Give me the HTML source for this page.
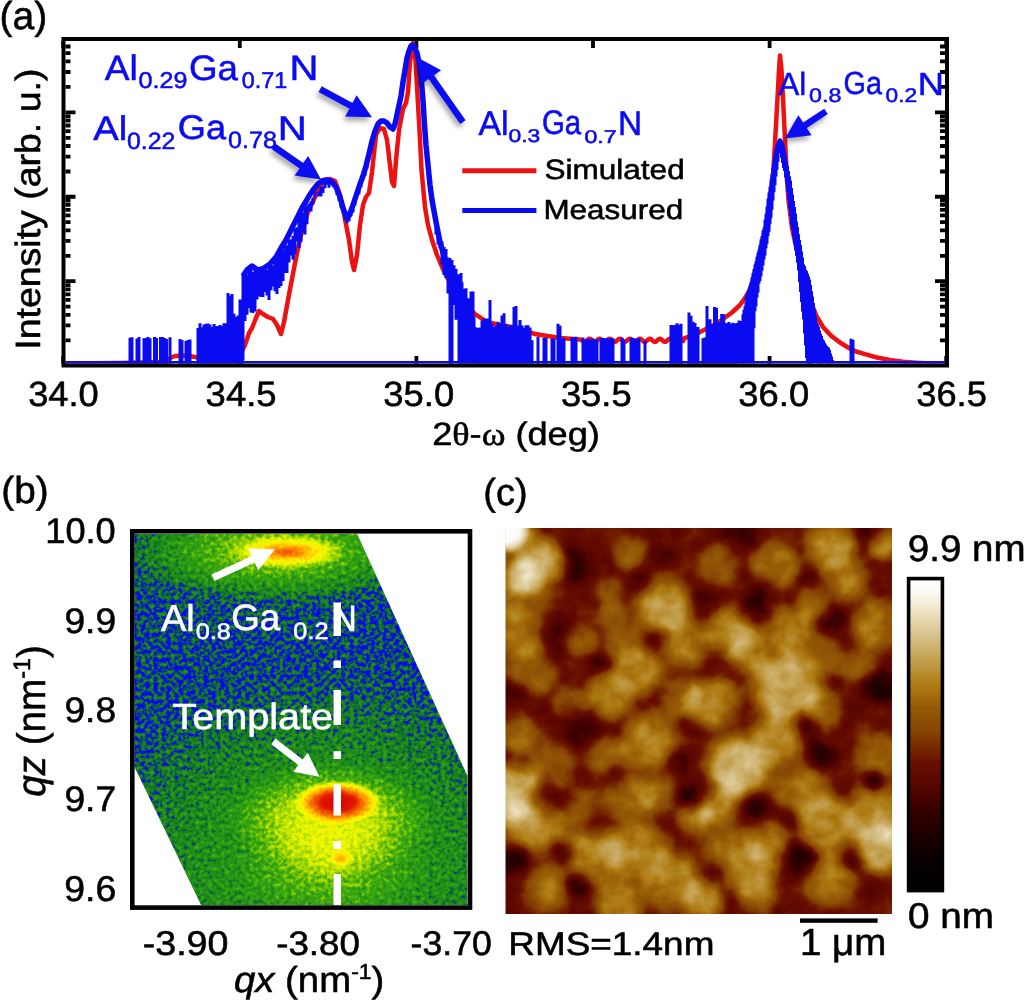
<!DOCTYPE html><html><head><meta charset="utf-8"><style>html,body{margin:0;padding:0;background:#fff;}body{width:1025px;height:1003px;overflow:hidden;}svg{display:block;filter:blur(0.75px);}text{font-family:"Liberation Sans",sans-serif;text-rendering:geometricPrecision;}</style></head><body>
<svg width="1025" height="1003" viewBox="0 0 1025 1003">
<defs>
<filter id="sh" x="-30%" y="-30%" width="160%" height="160%"><feDropShadow dx="-2" dy="4" stdDeviation="2.5" flood-color="#000" flood-opacity="0.35"/></filter>
<clipPath id="clipA"><rect x="65.5" y="41" width="879.5" height="322.5"/></clipPath>
</defs>
<rect width="1025" height="1003" fill="#fff"/>
<path d="M65.5 340.3H70.5M945 340.3H940M65.5 325.4H70.5M945 325.4H940M65.5 314.8H70.5M945 314.8H940M65.5 306.6H70.5M945 306.6H940M65.5 299.9H70.5M945 299.9H940M65.5 294.3H70.5M945 294.3H940M65.5 289.4H70.5M945 289.4H940M65.5 285.1H70.5M945 285.1H940M65.5 281.2H75.5M945 281.2H935M65.5 281.2H75.5M945 281.2H935M65.5 255.8H70.5M945 255.8H940M65.5 240.9H70.5M945 240.9H940M65.5 230.3H70.5M945 230.3H940M65.5 222.1H70.5M945 222.1H940M65.5 215.4H70.5M945 215.4H940M65.5 209.8H70.5M945 209.8H940M65.5 204.9H70.5M945 204.9H940M65.5 200.6H70.5M945 200.6H940M65.5 196.7H75.5M945 196.7H935M65.5 196.9H75.5M945 196.9H935M65.5 171.5H70.5M945 171.5H940M65.5 156.6H70.5M945 156.6H940M65.5 146H70.5M945 146H940M65.5 137.8H70.5M945 137.8H940M65.5 131.1H70.5M945 131.1H940M65.5 125.5H70.5M945 125.5H940M65.5 120.6H70.5M945 120.6H940M65.5 116.3H70.5M945 116.3H940M65.5 112.4H75.5M945 112.4H935M65.5 112.3H75.5M945 112.3H935M65.5 86.9H70.5M945 86.9H940M65.5 72H70.5M945 72H940M65.5 61.4H70.5M945 61.4H940M65.5 53.2H70.5M945 53.2H940M65.5 46.5H70.5M945 46.5H940M63.2 363.5V356M63.2 41V48M239.8 363.5V356M239.8 41V48M416.4 363.5V356M416.4 41V48M593 363.5V356M593 41V48M769.6 363.5V356M769.6 41V48M946.2 363.5V356M946.2 41V48" stroke="#000" stroke-width="3.8" fill="none"/>
<g clip-path="url(#clipA)">
<path d="M65 363.5 L120 363 L165 362 L170 358 L175 356 L185 355.5 L195 357 L205 359 L215 358 L230 357 L240 355 L245 345 L249 333 L252 328 L256 318 L259 311 L263 314 L268 317 L273 319 L277 325 L281 334 L284 322 L288 300 L291 284 L296 258 L301 235 L308 212 L315 197 L320 187 L325 180 L330 179 L335 181 L340 195 L345 219 L349 240 L352 262 L354 270 L357 255 L360 225 L363 205 L366 197 L369 193 L372 172 L376 135 L380 128 L384 129 L387 140 L390 165 L392 182 L394 186 L396 160 L399 130 L403 109 L406 103 L408 92 L410 62 L413 43 L415.5 60 L417.5 95 L420 140 L421.5 170 L425 207 L428 225 L432 240 L437 255 L442 267 L448 279 L455 289 L466 304 L475 314 L487 322 L500 325 L512 327 L535 334 L560 338 L580 339.5 L582 340.3 L583.2 341.4 L584.5 341.9 L585.8 341.4 L587 340.3 L588.2 339.2 L589.5 338.7 L590.8 339.1 L592 340.2 L593.2 341.4 L594.5 341.9 L595.8 341.5 L597 340.4 L598.2 339.2 L599.5 338.7 L600.8 339.1 L602 340.2 L603.2 341.3 L604.5 341.9 L605.8 341.5 L607 340.4 L608.2 339.3 L609.5 338.7 L610.8 339.1 L612 340.1 L613.2 341.3 L614.5 341.9 L615.8 341.6 L617 340.5 L618.2 339.3 L619.5 338.7 L620.8 339 L622 340.1 L623.2 341.3 L624.5 341.9 L625.8 341.6 L627 340.5 L628.2 339.4 L629.5 338.7 L630.8 339 L632 340 L633.2 341.2 L634.5 341.9 L635.8 341.6 L637 340.6 L638.2 339.4 L639.5 338.7 L640.8 339 L642 340 L643.2 341.2 L644.5 341.9 L645.8 341.6 L647 340.6 L648.2 339.4 L649.5 338.7 L650.8 338.9 L652 339.9 L653.2 341.1 L654.5 341.9 L655.8 341.7 L657 340.7 L658.2 339.5 L659.5 338.8 L660.8 338.9 L662 339.9 L663.2 341.1 L664.5 341.8 L665.8 341.7 L667 340.7 L668.2 339.5 L669.5 338.8 L670.8 338.9 L672 339.8 L673.2 341 L674.5 341.8 L675.8 341.7 L677 340.8 L678.2 339.6 L679.5 338.8 L680.8 338.9 L682 339.8 L683.2 341 L684 338.3 L695 334.5 L705 329.6 L715 324.5 L723 319 L732 312.5 L740 305 L745 298 L749 291 L754 279 L758 266 L762 252 L766 238 L769 220 L772 190 L774 160 L776 125 L777.5 98 L779 70 L780 55.5 L781.5 70 L783 98 L785 140 L787 180 L788.5 200 L792 228 L797 251 L802 272 L807 290 L812 305 L817 317 L823 327 L831 335.6 L840 342.5 L848 347.5 L856 351.5 L865 354.2 L877 357.5 L890 360 L903 361.8 L916 362.7 L930 363.5 L943 364" stroke="#ee1111" stroke-width="4.5" fill="none" stroke-linejoin="round"/>
<path d="M65 362.3 L945 362.3" stroke="#0b0bf2" stroke-width="2.6" fill="none"/>
<path d="M130 337.7V364M132 337.3V364M137 338.6V364M139 337.1V364M144 338.3V364M146 337.9V364M148 337.1V364M150 338.2V364M154.5 337V364M156.5 338V364M160.5 337.1V364M162.5 337.1V364M164.5 338V364M166.5 339V364M170 337.2V364M180 339V364M182 340V364M186 340.9V364M188 339.9V364M190 339.4V364M198 327.9V364M200 323.2V364M202 327.3V364M204 324.4V364M206 323.7V364M208 323.6V364M210 324.5V364M212 327.1V364M214 323.9V364M216 325.9V364M218 326.2V364M220 324.9V364M222 325.7V364M224 323.3V364M226 323.3V364M228 293V364M230 295.4V364M232 294.1V364M234 313.8V364M236 317V364M238 315.4V364M240 299.5V364M242 306.9V364M243 274.9V360.6M245 273.4V321M247 275V314.8M249 270.3V307.9M251 268.4V312.5M253 272.1V313.1M255 269.4V311.5M257 270.7V299.6M259 270V296.3M261 268.2V297.1M263 269.7V297.1M265 267.7V292M267 270.1V295.6M269 267.1V299.9M271 265.7V290.3M273 265.5V286.5M275 258.2V291.3M277 258.2V293.9M279 253.7V288.1M281 248.3V286M283 250V281M285 243.7V273M287 245.4V273M289 239.5V262.6M291 239.2V255.5M293 235.7V259.8M295 228.6V254.6M297 227.2V241.6M299 217.4V247.9M301 214V242.1M303 212.4V231.8M305 207.5V234.6M307 205.4V224.2M309 203.5V210.7M311 201.3V211.4M313 198V204.5M315 191.4V197.4M317 193.8V193.8M319 191.6V196.5M321 186.8V196.6M323 186.4V193.1M325 181V188.2M327 180.6V184.7M329 178.9V187.8M436 226.9V234.6M438 234.2V244.6M440 241.6V248.1M442 241.6V264.8M444 247.1V274.9M446 249.1V278.1M448 257.6V293.5M450 257.9V308.8M452 259.9V308.5M454 265.3V305.1M456 269V319.7M458 278.4V317.6M460 278.2V322.4M462 282.2V327.6M464 292.5V337.4M466 295.5V360.3M468 298.2V361.7M470 307V356.5M472 313.3V359.4M474 316.3V352.6M476 328.4V352.1M450 262.5V364M452 262.5V364M459 274.3V364M461 273V364M464 288.7V364M466 288.3V364M471 291.5V364M473 291.5V364M466 319.4V364M468 319.1V364M470 324.3V364M472 327.5V364M474 321.4V364M476 327.2V364M478 327.9V364M480 327.5V364M482 320.4V364M484 318.6V364M486 318.7V364M488 318.4V364M490 300V364M492 323.5V364M494 326.8V364M496 326.1V364M498 321.8V364M500 323.8V364M502 315.4V364M504 313.3V364M506 323.9V364M508 326.9V364M510 325.4V364M512 325V364M514 307V364M516 306.1V364M518 325.5V364M520 320V364M522 325.6V364M524 327.7V364M526 325.2V364M528 325.2V364M530 327.4V364M532 340.3V364M538 336.8V364M544 337.7V364M546 337.8V364M552 338.8V364M554 338.5V364M558 323.8V364M560 325.5V364M562 338.9V364M564 338.1V364M572 337.3V364M574 337.8V364M576 336.7V364M583 337.4V364M585 339.9V364M587 339.1V364M589 338.8V364M591 339.8V364M593 338.5V364M595 339.7V364M597 339.5V364M601 337.9V364M603 338.1V364M605 338.2V364M607 338V364M609 338.9V364M611 338.1V364M613 338.5V364M622 337.7V364M624 339.8V364M631 337.8V364M633 338.1V364M635 338.4V364M637 339.3V364M639 338V364M645 340.8V364M671 325.1V364M673 325.2V364M675 325.1V364M677 323.2V364M679 324.8V364M681 323.8V364M689 312.6V364M691 315.7V364M693 321.8V364M695 322.9V364M698 326.9V364M703 338.3V364M705 337.4V364M707 306.1V364M710 319.3V364M713 324.2V364M715 321.5V364M717 323.3V364M719 322.1V364M721 322.2V364M723 324.1V364M725 323.1V364M727 323.3V364M729 324.1V364M731 324.7V364M733 322.8V364M735 323.5V364M737 323.1V364M714.5 307.1V364M716.5 307.8V364M721.7 313.9V364M723.7 314.2V364M729 322V364M731 323.8V364M733 322.8V364M735 323.5V364M737 323.8V364M739 320.5V362.3M740 334.9V361.5M741 326.9V363.6M742 321.1V363.8M743 314.3V363.8M744 309.7V361.6M745 306.2V363.5M746 301.8V362M747 296.7V361.4M748 294.3V363.3M749 290.3V362.8M750 285.4V361M751 282.1V363.5M752 277.3V362.5M753 273.1V363.4M754 269V328.3M755 264.4V311.3M756 261.2V306.2M757 256.7V297.6M758 252.7V292.5M759 249.4V283.6M760 245.1V280.9M761 239.4V276.3M762 236.1V270.8M763 230.5V265.5M764 227.8V259.5M765 219.7V255.6M766 214.1V248.3M767 206.8V243.7M768 198.7V235.9M769 192.6V231.8M770 186.7V224.1M771 179.6V217.7M772 174V209.8M773 168.2V200.6M774 161.4V192.3M775 156.9V185.2M776 151.7V176.4M777 148.4V169.7M778 144.7V161.8M779 141.2V153.1M780.5 142.5V152.4M781.5 145.4V157.8M782.5 148.1V163M783.5 150.7V167.9M784.5 153.6V171.1M785.5 158.3V177.4M786.5 162.5V183.2M787.5 166.1V191.5M788.5 171.1V200.5M789.5 176.2V208.8M790.5 180.4V215.9M791.5 188.1V225M792.5 194.5V230M793.5 200.9V237M794.5 207.1V244.1M795.5 213.4V250.2M796.5 221.4V255.7M797.5 226.9V262.7M798.5 234.3V270.4M799.5 239.9V282.2M800.5 245.1V291.9M801.5 251.5V302.1M802.5 257.5V311.5M803.5 264.2V319.3M804.5 266V333.4M805.5 269.5V345.2M806.5 271V358M807.5 273.7V362.6M808.5 276.6V363.4M809.5 279.6V364M810.5 285.1V363.7M811.5 291.3V363.9M812.5 296.6V363.1M813.5 303V362.2M814.5 309.5V361.7M815.5 315.7V361.9M816.5 322.2V362.8M817.5 324.2V361M818.5 326.7V361.8M819.5 330.5V363.9M820.5 333.7V361.3M821.5 336.1V361.8M822.5 339.3V363.6M823.5 340.5V362.5M824.5 342.8V361.6M825.5 344.4V362.2M826.5 346.1V362M827.5 347.3V363.3M828.5 347.6V363.6M829.5 349.9V363.7M830.5 353.4V362.3M831.5 356.5V362.1M832.5 360.1V362.8M851 338.7V364M853 339.7V364M337 186.5V195M339 192.4V201.1M341 200.4V207.8M343 207V210.5M345 212.3V220.4M347 215.2V223.2M349 212.1V221.5M351 209.1V216M353 202.3V212.4M355 196.5V205.5M357 192.7V196M359 186V194.2M361 180.1V187.3M363 176V178.4M365 168.3V176M367 159.2V168.7M369 152.8V159.6M371 143.5V150.6" stroke="#0b0bf2" stroke-width="3" fill="none"/>
<path d="M243 276 L247 270 L252 266 L258 270 L264 268 L270 264 L276 257 L281 248 L286 240 L290 232 L294 224 L298 216 L302 208 L305 203 L309 196 L313 190 L318 184 L322 181 L326 180 L331 181 L336 187 L340 197 L343 208 L346 216 L349 216 L352 208 L356 196 L360 184 L363 176 L366 166 L369 154 L372 141 L375 131 L378 124 L381 121 L384 121 L387 123 L390 127 L393 129 L395 124 L398 110 L401 96 L403 82 L405 70 L407 58 L409 51 L411 46 L413 45 L415 48 L417 53 L419 62 L421 76 L423 100 L424.5 125 L426 145 L428 165 L430 185 L432 200 L436 222 L440 242 L444 256 L448 266 L452 276 L456 288 L460 302 L464 318 L468 333 L472 346 L477 358 L481 363" stroke="#0b0bf2" stroke-width="5.5" fill="none" stroke-linejoin="round"/>
<path d="M746 300 L751.5 286 L757.5 262 L766 226 L772.5 180 L775 160 L777.5 146 L780 140.5 L782.5 146 L785 160 L788 178 L795 226 L801 262 L806 285 L810 309" stroke="#0b0bf2" stroke-width="4.5" fill="none" stroke-linejoin="round"/>
</g>
<rect x="63.5" y="39" width="883.5" height="326.5" fill="none" stroke="#000" stroke-width="4"/>
<path d="M462.3 170.8H536.4" stroke="#ee1111" stroke-width="5"/>
<path d="M462.3 210.6H536.4" stroke="#0b0bf2" stroke-width="5"/>
<g filter="url(#sh)">
<polygon points="271.8,149.2 299.5,168.4 294.5,175.6 321,179.5 308.2,155.9 303.2,163.1 275.6,143.8" fill="#0b0bf2"/>
<polygon points="318.5,92 349.4,108.7 345.2,116.4 372,117.3 356.6,95.3 352.5,103 321.7,86.2" fill="#0b0bf2"/>
<polygon points="465.6,120.2 434,75.3 441.1,70.2 417.5,57.5 421.5,84 428.6,79 460.2,124" fill="#0b0bf2"/>
<polygon points="824.2,108.7 803.2,122.6 798.4,115.3 785,138.5 811.6,135.3 806.8,128 827.8,114.1" fill="#0b0bf2"/>
</g>
<defs>
<filter id="rsmf" x="130" y="529" width="345" height="381" filterUnits="userSpaceOnUse" color-interpolation-filters="sRGB">
<feTurbulence type="fractalNoise" baseFrequency="0.24" numOctaves="2" seed="11" result="nz"/>
<feColorMatrix in="nz" type="matrix" values="1 0 0 0 0 1 0 0 0 0 1 0 0 0 0 0 0 0 0 1" result="ng"/>
<feComposite in="SourceGraphic" in2="ng" operator="arithmetic" k1="-0.550" k2="1.275" k3="0.550" k4="-0.275" result="sum"/>
<feComponentTransfer in="sum"><feFuncR type="table" tableValues="0.020 0.020 0.020 0.020 0.020 0.020 0.020 0.020 0.020 0.020 0.020 0.020 0.020 0.020 0.020 0.020 0.020 0.024 0.043 0.065 0.094 0.125 0.162 0.199 0.235 0.382 0.529 0.667 0.797 0.912 0.961 1.000 1.000 1.000 0.987 0.971 0.948 0.915 0.882 0.833 0.784"/><feFuncG type="table" tableValues="0.020 0.020 0.020 0.020 0.020 0.020 0.020 0.020 0.020 0.020 0.020 0.020 0.020 0.020 0.020 0.020 0.020 0.061 0.267 0.443 0.502 0.556 0.593 0.630 0.667 0.732 0.797 0.858 0.915 0.961 0.961 0.940 0.833 0.727 0.601 0.471 0.340 0.209 0.078 0.039 0.000"/><feFuncB type="table" tableValues="0.980 0.980 0.980 0.980 0.980 0.980 0.980 0.980 0.980 0.980 0.980 0.980 0.980 0.980 0.980 0.980 0.980 0.898 0.486 0.151 0.122 0.096 0.083 0.071 0.059 0.034 0.010 0.000 0.000 0.000 0.000 0.000 0.000 0.000 0.000 0.000 0.000 0.000 0.000 0.000 0.000"/><feFuncA type="linear" slope="0" intercept="1"/></feComponentTransfer>
</filter>
<radialGradient id="gBig" cx="325" cy="860" r="250" gradientUnits="userSpaceOnUse" gradientTransform="translate(325 860) scale(1 0.76) translate(-325 -860)"><stop offset="0" stop-color="#fff" stop-opacity="0.24"/><stop offset="0.5" stop-color="#fff" stop-opacity="0.14"/><stop offset="1" stop-color="#fff" stop-opacity="0"/></radialGradient>
<radialGradient id="gA2" cx="278" cy="552" r="150" gradientUnits="userSpaceOnUse" gradientTransform="translate(278 552) scale(1 0.3333333333333333) translate(-278 -552)"><stop offset="0" stop-color="#fff" stop-opacity="0.42"/><stop offset="0.5" stop-color="#fff" stop-opacity="0.2"/><stop offset="1" stop-color="#fff" stop-opacity="0"/></radialGradient>
<radialGradient id="gTop" cx="270" cy="540" r="200" gradientUnits="userSpaceOnUse" gradientTransform="translate(270 540) scale(1 0.4) translate(-270 -540)"><stop offset="0" stop-color="#fff" stop-opacity="0.12"/><stop offset="1" stop-color="#fff" stop-opacity="0"/></radialGradient>
<radialGradient id="gA" cx="289" cy="552" r="58" gradientUnits="userSpaceOnUse" gradientTransform="translate(289 552) scale(1 0.29310344827586204) translate(-289 -552)"><stop offset="0" stop-color="#fff" stop-opacity="0.5"/><stop offset="0.45" stop-color="#fff" stop-opacity="0.4"/><stop offset="1" stop-color="#fff" stop-opacity="0"/></radialGradient>
<radialGradient id="gA3" cx="289" cy="552" r="22" gradientUnits="userSpaceOnUse" gradientTransform="translate(289 552) scale(1 0.29545454545454547) translate(-289 -552)"><stop offset="0" stop-color="#fff" stop-opacity="0.35"/><stop offset="0.6" stop-color="#fff" stop-opacity="0.2"/><stop offset="1" stop-color="#fff" stop-opacity="0"/></radialGradient>
<radialGradient id="gT" cx="331" cy="820" r="105" gradientUnits="userSpaceOnUse" gradientTransform="translate(331 820) scale(1 0.5523809523809524) translate(-331 -820)"><stop offset="0" stop-color="#fff" stop-opacity="0.42"/><stop offset="0.45" stop-color="#fff" stop-opacity="0.3"/><stop offset="1" stop-color="#fff" stop-opacity="0"/></radialGradient>
<radialGradient id="gT3" cx="330" cy="870" r="100" gradientUnits="userSpaceOnUse" gradientTransform="translate(330 870) scale(1 0.45) translate(-330 -870)"><stop offset="0" stop-color="#fff" stop-opacity="0.2"/><stop offset="1" stop-color="#fff" stop-opacity="0"/></radialGradient>
<radialGradient id="gT2" cx="338" cy="802" r="44" gradientUnits="userSpaceOnUse" gradientTransform="translate(338 802) scale(1 0.5) translate(-338 -802)"><stop offset="0" stop-color="#fff" stop-opacity="0.95"/><stop offset="0.4" stop-color="#fff" stop-opacity="0.82"/><stop offset="0.72" stop-color="#fff" stop-opacity="0.45"/><stop offset="1" stop-color="#fff" stop-opacity="0"/></radialGradient>
<radialGradient id="gT4" cx="341" cy="858" r="12" gradientUnits="userSpaceOnUse" gradientTransform="translate(341 858) scale(1 0.8333333333333334) translate(-341 -858)"><stop offset="0" stop-color="#fff" stop-opacity="0.45"/><stop offset="0.5" stop-color="#fff" stop-opacity="0.3"/><stop offset="1" stop-color="#fff" stop-opacity="0"/></radialGradient>
<clipPath id="clipB"><polygon points="134.5,534 357.2,534 467.5,776 467.5,905.3 201.2,905.3 134.5,767.1"/></clipPath>
</defs>
<g clip-path="url(#clipB)"><g filter="url(#rsmf)">
<rect x="130" y="529" width="345" height="381" fill="rgb(115,115,115)"/>
<rect x="130" y="529" width="345" height="381" fill="url(#gBig)"/>
<rect x="130" y="529" width="345" height="381" fill="url(#gTop)"/>
<rect x="130" y="529" width="345" height="381" fill="url(#gA2)"/>
<rect x="130" y="529" width="345" height="381" fill="url(#gT)"/>
<rect x="130" y="529" width="345" height="381" fill="url(#gT3)"/>
<rect x="130" y="529" width="345" height="381" fill="url(#gA)"/>
<rect x="130" y="529" width="345" height="381" fill="url(#gA3)"/>
<rect x="130" y="529" width="345" height="381" fill="url(#gT2)"/>
<rect x="130" y="529" width="345" height="381" fill="url(#gT4)"/>
</g></g>
<rect x="333.5" y="602.5" width="7.5" height="33.5" fill="#fff"/>
<rect x="333.5" y="660.5" width="7.5" height="7.5" fill="#fff"/>
<rect x="333.5" y="690" width="7.5" height="35" fill="#fff"/>
<rect x="333.5" y="751.2" width="7.5" height="7.8" fill="#fff"/>
<rect x="333.5" y="784.4" width="7.5" height="31.2" fill="#fff"/>
<rect x="333.5" y="841" width="7.5" height="7.8" fill="#fff"/>
<rect x="333.5" y="874" width="7.5" height="31.3" fill="#fff"/>
<rect x="132.3" y="531.3" width="337.7" height="376.3" fill="none" stroke="#000" stroke-width="4.6"/>
<polygon points="214.5,580.9 254.6,562.5 258.2,570.2 275,549.3 248.2,548.4 251.7,556.1 211.5,574.5" fill="#fff"/>
<polygon points="271.2,744.2 298.3,765 293.2,771.7 319.5,776.8 307.7,752.7 302.6,759.4 275.4,738.6" fill="#fff"/>
<defs>
<filter id="afmf" x="490" y="513" width="417" height="416" filterUnits="userSpaceOnUse" color-interpolation-filters="sRGB">
<feGaussianBlur in="SourceGraphic" stdDeviation="3" result="bl0"/>
<feTurbulence type="fractalNoise" baseFrequency="0.05" numOctaves="3" seed="5" result="nz"/>
<feColorMatrix in="nz" type="matrix" values="1 0 0 0 0 1 0 0 0 0 1 0 0 0 0 0 0 0 0 1" result="ng"/>
<feComposite in="bl0" in2="ng" operator="arithmetic" k1="0" k2="1" k3="0.18" k4="-0.09" result="bl"/>
<feComponentTransfer in="bl"><feFuncR type="table" tableValues="0.000 0.008 0.016 0.024 0.031 0.058 0.085 0.112 0.142 0.173 0.203 0.241 0.283 0.325 0.353 0.377 0.402 0.428 0.455 0.482 0.512 0.537 0.557 0.576 0.602 0.637 0.672 0.701 0.725 0.750 0.775 0.799 0.824 0.849 0.880 0.911 0.941 0.958 0.974 0.988 1.000"/><feFuncG type="table" tableValues="0.000 0.000 0.000 0.000 0.000 0.000 0.000 0.000 0.000 0.000 0.000 0.004 0.011 0.018 0.029 0.042 0.054 0.091 0.144 0.196 0.245 0.285 0.311 0.337 0.373 0.422 0.471 0.516 0.559 0.602 0.645 0.688 0.730 0.773 0.816 0.859 0.902 0.935 0.967 0.988 1.000"/><feFuncB type="table" tableValues="0.000 0.000 0.000 0.000 0.000 0.000 0.000 0.000 0.000 0.000 0.000 0.000 0.000 0.000 0.000 0.000 0.000 0.000 0.000 0.004 0.014 0.020 0.020 0.020 0.028 0.049 0.070 0.123 0.196 0.270 0.343 0.417 0.490 0.564 0.637 0.711 0.784 0.858 0.931 0.975 1.000"/><feFuncA type="linear" slope="0" intercept="1"/></feComponentTransfer>
</filter>
<radialGradient id="bw"><stop offset="0" stop-color="#fff" stop-opacity="1"/><stop offset="0.55" stop-color="#fff" stop-opacity="0.85"/><stop offset="0.8" stop-color="#fff" stop-opacity="0.35"/><stop offset="1" stop-color="#fff" stop-opacity="0"/></radialGradient>
<radialGradient id="bk"><stop offset="0" stop-color="#000" stop-opacity="1"/><stop offset="0.5" stop-color="#000" stop-opacity="0.6"/><stop offset="1" stop-color="#000" stop-opacity="0"/></radialGradient>
<linearGradient id="cbar" x1="0" y1="0" x2="0" y2="1">
<stop offset="0.000" stop-color="rgb(255,255,255)"/>
<stop offset="0.040" stop-color="rgb(250,250,245)"/>
<stop offset="0.100" stop-color="rgb(240,230,200)"/>
<stop offset="0.180" stop-color="rgb(215,195,140)"/>
<stop offset="0.260" stop-color="rgb(195,160,80)"/>
<stop offset="0.340" stop-color="rgb(175,125,20)"/>
<stop offset="0.410" stop-color="rgb(150,90,5)"/>
<stop offset="0.485" stop-color="rgb(135,70,5)"/>
<stop offset="0.535" stop-color="rgb(120,45,0)"/>
<stop offset="0.590" stop-color="rgb(105,15,0)"/>
<stop offset="0.670" stop-color="rgb(85,5,0)"/>
<stop offset="0.740" stop-color="rgb(55,0,0)"/>
<stop offset="0.820" stop-color="rgb(30,0,0)"/>
<stop offset="0.900" stop-color="rgb(8,0,0)"/>
<stop offset="1.000" stop-color="rgb(0,0,0)"/>
</linearGradient>
<radialGradient id="wc"><stop offset="0" stop-color="#fff" stop-opacity="1"/><stop offset="0.55" stop-color="#fff" stop-opacity="0.95"/><stop offset="1" stop-color="#fff" stop-opacity="0"/></radialGradient>
<clipPath id="clipC"><rect x="505.5" y="528" width="386.5" height="386"/></clipPath>
</defs>
<g clip-path="url(#clipC)"><g filter="url(#afmf)">
<rect x="490" y="513" width="417" height="416" fill="#636363"/>
<circle cx="508" cy="531" r="27.3" fill="url(#bw)" opacity="0.75"/>
<circle cx="532" cy="548" r="25.2" fill="url(#bw)" opacity="0.38"/>
<circle cx="550" cy="552" r="16.8" fill="url(#bw)" opacity="0.35"/>
<circle cx="526.4" cy="576.6" r="25.2" fill="url(#bw)" opacity="0.68"/>
<circle cx="520" cy="585" r="47.2" fill="url(#bw)" opacity="0.31"/>
<circle cx="555.5" cy="565" r="18.9" fill="url(#bw)" opacity="0.38"/>
<circle cx="629.4" cy="553" r="23.1" fill="url(#bw)" opacity="0.31"/>
<circle cx="664.4" cy="607.7" r="37.8" fill="url(#bw)" opacity="0.60"/>
<circle cx="610" cy="590" r="18.9" fill="url(#bw)" opacity="0.27"/>
<circle cx="612" cy="617.4" r="21" fill="url(#bw)" opacity="0.31"/>
<circle cx="581" cy="640.7" r="23.1" fill="url(#bw)" opacity="0.31"/>
<circle cx="623.6" cy="644.6" r="25.2" fill="url(#bw)" opacity="0.35"/>
<circle cx="520.5" cy="629" r="31.5" fill="url(#bw)" opacity="0.38"/>
<circle cx="532" cy="668" r="33.6" fill="url(#bw)" opacity="0.38"/>
<circle cx="639" cy="672" r="31.5" fill="url(#bw)" opacity="0.49"/>
<circle cx="608" cy="695" r="31.5" fill="url(#bw)" opacity="0.46"/>
<circle cx="571" cy="703" r="23.1" fill="url(#bw)" opacity="0.31"/>
<circle cx="686" cy="644.6" r="31.5" fill="url(#bw)" opacity="0.42"/>
<circle cx="682" cy="697" r="25.2" fill="url(#bw)" opacity="0.35"/>
<circle cx="717.4" cy="565" r="27.3" fill="url(#bw)" opacity="0.31"/>
<circle cx="775.8" cy="565" r="31.5" fill="url(#bw)" opacity="0.42"/>
<circle cx="830.2" cy="543.6" r="33.6" fill="url(#bw)" opacity="0.49"/>
<circle cx="884.6" cy="543.6" r="21" fill="url(#bw)" opacity="0.49"/>
<circle cx="845.7" cy="578.5" r="29.4" fill="url(#bw)" opacity="0.42"/>
<circle cx="812.7" cy="601.9" r="23.1" fill="url(#bw)" opacity="0.31"/>
<circle cx="733" cy="629" r="33.6" fill="url(#bw)" opacity="0.49"/>
<circle cx="789.4" cy="633" r="33.6" fill="url(#bw)" opacity="0.46"/>
<circle cx="876.8" cy="625" r="33.6" fill="url(#bw)" opacity="0.42"/>
<circle cx="748.5" cy="652.4" r="27.3" fill="url(#bw)" opacity="0.46"/>
<circle cx="822.4" cy="656.3" r="27.3" fill="url(#bw)" opacity="0.35"/>
<circle cx="785.5" cy="687.4" r="44.1" fill="url(#bw)" opacity="0.64"/>
<circle cx="713.5" cy="703" r="33.6" fill="url(#bw)" opacity="0.49"/>
<circle cx="859" cy="664" r="23.1" fill="url(#bw)" opacity="0.31"/>
<circle cx="822.4" cy="708.8" r="25.2" fill="url(#bw)" opacity="0.38"/>
<circle cx="520.6" cy="735.6" r="23.1" fill="url(#bw)" opacity="0.42"/>
<circle cx="650.8" cy="741.4" r="37.8" fill="url(#bw)" opacity="0.49"/>
<circle cx="606" cy="759" r="27.3" fill="url(#bw)" opacity="0.35"/>
<circle cx="549.7" cy="764.7" r="31.5" fill="url(#bw)" opacity="0.31"/>
<circle cx="512.8" cy="794" r="37.8" fill="url(#bw)" opacity="0.64"/>
<circle cx="532.2" cy="825" r="37.8" fill="url(#bw)" opacity="0.53"/>
<circle cx="629.4" cy="797.8" r="33.6" fill="url(#bw)" opacity="0.38"/>
<circle cx="656.6" cy="793.9" r="25.2" fill="url(#bw)" opacity="0.31"/>
<circle cx="584.7" cy="807.5" r="23.1" fill="url(#bw)" opacity="0.27"/>
<circle cx="695.5" cy="817.2" r="23.1" fill="url(#bw)" opacity="0.49"/>
<circle cx="596.4" cy="856" r="37.8" fill="url(#bw)" opacity="0.49"/>
<circle cx="639" cy="852" r="37.8" fill="url(#bw)" opacity="0.49"/>
<circle cx="549.7" cy="887.2" r="33.6" fill="url(#bw)" opacity="0.38"/>
<circle cx="619.7" cy="902.7" r="31.5" fill="url(#bw)" opacity="0.46"/>
<circle cx="672.2" cy="881.4" r="37.8" fill="url(#bw)" opacity="0.46"/>
<circle cx="569" cy="829" r="23.1" fill="url(#bw)" opacity="0.27"/>
<circle cx="738.8" cy="766.7" r="42" fill="url(#bw)" opacity="0.68"/>
<circle cx="777.7" cy="739.4" r="33.6" fill="url(#bw)" opacity="0.49"/>
<circle cx="721.3" cy="801.6" r="33.6" fill="url(#bw)" opacity="0.42"/>
<circle cx="801" cy="790" r="37.8" fill="url(#bw)" opacity="0.42"/>
<circle cx="876.8" cy="755" r="31.5" fill="url(#bw)" opacity="0.35"/>
<circle cx="828.2" cy="825" r="37.8" fill="url(#bw)" opacity="0.49"/>
<circle cx="876.8" cy="813.3" r="37.8" fill="url(#bw)" opacity="0.49"/>
<circle cx="880.7" cy="846.4" r="33.6" fill="url(#bw)" opacity="0.64"/>
<circle cx="766" cy="840.5" r="33.6" fill="url(#bw)" opacity="0.42"/>
<circle cx="721.3" cy="844.4" r="27.3" fill="url(#bw)" opacity="0.35"/>
<circle cx="750.5" cy="869.7" r="33.6" fill="url(#bw)" opacity="0.46"/>
<circle cx="830.2" cy="881.4" r="33.6" fill="url(#bw)" opacity="0.42"/>
<circle cx="703.8" cy="900.8" r="25.2" fill="url(#bw)" opacity="0.49"/>
<circle cx="758" cy="895" r="25.2" fill="url(#bw)" opacity="0.35"/>
<circle cx="579" cy="567" r="24" fill="url(#bk)" opacity="0.48"/>
<circle cx="553.6" cy="629" r="21.6" fill="url(#bk)" opacity="0.32"/>
<circle cx="553.6" cy="654" r="19.2" fill="url(#bk)" opacity="0.32"/>
<circle cx="596" cy="664" r="19.2" fill="url(#bk)" opacity="0.36"/>
<circle cx="514.7" cy="693" r="19.2" fill="url(#bk)" opacity="0.32"/>
<circle cx="656.6" cy="637" r="16.8" fill="url(#bk)" opacity="0.32"/>
<circle cx="637" cy="582" r="19.2" fill="url(#bk)" opacity="0.32"/>
<circle cx="660.5" cy="557" r="19.2" fill="url(#bk)" opacity="0.24"/>
<circle cx="754.4" cy="607.7" r="21.6" fill="url(#bk)" opacity="0.60"/>
<circle cx="834" cy="623" r="21.6" fill="url(#bk)" opacity="0.40"/>
<circle cx="878.8" cy="687.4" r="24" fill="url(#bk)" opacity="0.64"/>
<circle cx="705" cy="600" r="21.6" fill="url(#bk)" opacity="0.40"/>
<circle cx="807" cy="576.6" r="16.8" fill="url(#bk)" opacity="0.28"/>
<circle cx="766" cy="586" r="16.8" fill="url(#bk)" opacity="0.32"/>
<circle cx="740" cy="530" r="30" fill="url(#bk)" opacity="0.32"/>
<circle cx="870" cy="530" r="24" fill="url(#bk)" opacity="0.32"/>
<circle cx="516.7" cy="860" r="21.6" fill="url(#bk)" opacity="0.60"/>
<circle cx="579" cy="726" r="30" fill="url(#bk)" opacity="0.40"/>
<circle cx="545.8" cy="797.8" r="21.6" fill="url(#bk)" opacity="0.40"/>
<circle cx="689.7" cy="797.8" r="19.2" fill="url(#bk)" opacity="0.56"/>
<circle cx="577" cy="885" r="19.2" fill="url(#bk)" opacity="0.56"/>
<circle cx="592.5" cy="825" r="16.8" fill="url(#bk)" opacity="0.28"/>
<circle cx="614" cy="778" r="19.2" fill="url(#bk)" opacity="0.36"/>
<circle cx="680" cy="759" r="19.2" fill="url(#bk)" opacity="0.40"/>
<circle cx="563" cy="852" r="16.8" fill="url(#bk)" opacity="0.36"/>
<circle cx="754.4" cy="809.4" r="24" fill="url(#bk)" opacity="0.60"/>
<circle cx="822.4" cy="757" r="21.6" fill="url(#bk)" opacity="0.56"/>
<circle cx="799" cy="860" r="24" fill="url(#bk)" opacity="0.60"/>
<circle cx="875" cy="780" r="14.4" fill="url(#bk)" opacity="0.64"/>
<circle cx="704" cy="788" r="16.8" fill="url(#bk)" opacity="0.40"/>
<circle cx="785.5" cy="817" r="16.8" fill="url(#bk)" opacity="0.40"/>
<circle cx="853.5" cy="860" r="16.8" fill="url(#bk)" opacity="0.32"/>
<circle cx="805" cy="726" r="19.2" fill="url(#bk)" opacity="0.40"/>
</g>
<circle cx="505" cy="528" r="26" fill="url(#wc)"/>
</g>
<rect x="908.6" y="578.6" width="33.8" height="312" fill="url(#cbar)"/>
<rect x="908.6" y="578.6" width="33.8" height="312" fill="none" stroke="#000" stroke-width="3.6"/>
<rect x="800" y="918.4" width="77.6" height="4.4" fill="#000"/>
<text x="-0.64" y="28.70" font-size="39.00" fill="#000" stroke="#000" stroke-width="0.55" textLength="47.78" lengthAdjust="spacingAndGlyphs">(a)</text>
<text x="28.21" y="406.21" font-size="35.16" fill="#000" stroke="#000" stroke-width="0.55" textLength="70.54" lengthAdjust="spacingAndGlyphs">34.0</text>
<text x="205.61" y="406.21" font-size="35.19" fill="#000" stroke="#000" stroke-width="0.55" textLength="71.03" lengthAdjust="spacingAndGlyphs">34.5</text>
<text x="383.39" y="406.21" font-size="35.18" fill="#000" stroke="#000" stroke-width="0.55" textLength="70.79" lengthAdjust="spacingAndGlyphs">35.0</text>
<text x="560.90" y="406.21" font-size="35.18" fill="#000" stroke="#000" stroke-width="0.55" textLength="70.81" lengthAdjust="spacingAndGlyphs">35.5</text>
<text x="738.38" y="406.21" font-size="35.16" fill="#000" stroke="#000" stroke-width="0.55" textLength="70.85" lengthAdjust="spacingAndGlyphs">36.0</text>
<text x="916.21" y="406.21" font-size="35.16" fill="#000" stroke="#000" stroke-width="0.55" textLength="70.66" lengthAdjust="spacingAndGlyphs">36.5</text>
<text x="432.18" y="444.66" font-size="32.35" fill="#000" stroke="#000" stroke-width="0.55" textLength="167.67" lengthAdjust="spacingAndGlyphs">2<tspan font-family='Liberation Serif'>θ</tspan>-<tspan font-family='Liberation Serif'>ω</tspan> (deg)</text>
<text transform="translate(39.69 349.73) rotate(-90)" font-size="35.10" fill="#000" stroke="#000" stroke-width="0.55" textLength="281.14" lengthAdjust="spacingAndGlyphs">Intensity (arb. u.)</text>
<text x="544.44" y="178.82" font-size="27.79" fill="#000" stroke="#000" stroke-width="0.55" textLength="140.27" lengthAdjust="spacingAndGlyphs">Simulated</text>
<text x="543.43" y="219.01" font-size="27.56" fill="#000" stroke="#000" stroke-width="0.55" textLength="139.75" lengthAdjust="spacingAndGlyphs">Measured</text>
<text x="104.79" y="80.30" font-size="35.40" fill="#0b0bf2" stroke="#0b0bf2" stroke-width="0.55" textLength="33.01" lengthAdjust="spacingAndGlyphs">Al</text>
<text x="138.55" y="88.39" font-size="22.90" fill="#0b0bf2" stroke="#0b0bf2" stroke-width="0.55" textLength="48.87" lengthAdjust="spacingAndGlyphs">0.29</text>
<text x="189.07" y="79.60" font-size="35.40" fill="#0b0bf2" stroke="#0b0bf2" stroke-width="0.55" textLength="48.98" lengthAdjust="spacingAndGlyphs">Ga</text>
<text x="241.69" y="87.56" font-size="22.90" fill="#0b0bf2" stroke="#0b0bf2" stroke-width="0.55" textLength="45.46" lengthAdjust="spacingAndGlyphs">0.71</text>
<text x="289.58" y="80.30" font-size="35.40" fill="#0b0bf2" stroke="#0b0bf2" stroke-width="0.55" textLength="28.94" lengthAdjust="spacingAndGlyphs">N</text>
<text x="93.34" y="140.10" font-size="34.20" fill="#0b0bf2" stroke="#0b0bf2" stroke-width="0.55" textLength="33.91" lengthAdjust="spacingAndGlyphs">Al</text>
<text x="126.93" y="148.52" font-size="23.70" fill="#0b0bf2" stroke="#0b0bf2" stroke-width="0.55" textLength="48.35" lengthAdjust="spacingAndGlyphs">0.22</text>
<text x="177.83" y="139.40" font-size="34.20" fill="#0b0bf2" stroke="#0b0bf2" stroke-width="0.55" textLength="48.22" lengthAdjust="spacingAndGlyphs">Ga</text>
<text x="228.08" y="148.20" font-size="23.70" fill="#0b0bf2" stroke="#0b0bf2" stroke-width="0.55" textLength="48.80" lengthAdjust="spacingAndGlyphs">0.78</text>
<text x="277.87" y="140.10" font-size="34.20" fill="#0b0bf2" stroke="#0b0bf2" stroke-width="0.55" textLength="28.98" lengthAdjust="spacingAndGlyphs">N</text>
<text x="478.44" y="135.10" font-size="34.00" fill="#0b0bf2" stroke="#0b0bf2" stroke-width="0.55" textLength="30.03" lengthAdjust="spacingAndGlyphs">Al</text>
<text x="508.49" y="142.40" font-size="18.40" fill="#0b0bf2" stroke="#0b0bf2" stroke-width="0.55" textLength="31.75" lengthAdjust="spacingAndGlyphs">0.3</text>
<text x="541.94" y="134.40" font-size="34.00" fill="#0b0bf2" stroke="#0b0bf2" stroke-width="0.55" textLength="39.23" lengthAdjust="spacingAndGlyphs">Ga</text>
<text x="584.52" y="142.57" font-size="18.40" fill="#0b0bf2" stroke="#0b0bf2" stroke-width="0.55" textLength="32.09" lengthAdjust="spacingAndGlyphs">0.7</text>
<text x="618.04" y="135.10" font-size="34.00" fill="#0b0bf2" stroke="#0b0bf2" stroke-width="0.55" textLength="24.14" lengthAdjust="spacingAndGlyphs">N</text>
<text x="778.34" y="94.70" font-size="32.00" fill="#0b0bf2" stroke="#0b0bf2" stroke-width="0.55" textLength="28.04" lengthAdjust="spacingAndGlyphs">Al</text>
<text x="809.04" y="101.65" font-size="19.60" fill="#0b0bf2" stroke="#0b0bf2" stroke-width="0.55" textLength="32.32" lengthAdjust="spacingAndGlyphs">0.8</text>
<text x="843.56" y="94.01" font-size="32.00" fill="#0b0bf2" stroke="#0b0bf2" stroke-width="0.55" textLength="38.34" lengthAdjust="spacingAndGlyphs">Ga</text>
<text x="885.59" y="101.94" font-size="19.60" fill="#0b0bf2" stroke="#0b0bf2" stroke-width="0.55" textLength="31.63" lengthAdjust="spacingAndGlyphs">0.2</text>
<text x="917.67" y="94.70" font-size="32.00" fill="#0b0bf2" stroke="#0b0bf2" stroke-width="0.55" textLength="26.23" lengthAdjust="spacingAndGlyphs">N</text>
<text x="1.28" y="503.01" font-size="37.65" fill="#000" stroke="#000" stroke-width="0.55" textLength="47.42" lengthAdjust="spacingAndGlyphs">(b)</text>
<text x="45.34" y="542.75" font-size="35.61" fill="#000" stroke="#000" stroke-width="0.55" textLength="70.41" lengthAdjust="spacingAndGlyphs">10.0</text>
<text x="64.40" y="632.56" font-size="35.59" fill="#000" stroke="#000" stroke-width="0.55" textLength="51.68" lengthAdjust="spacingAndGlyphs">9.9</text>
<text x="64.44" y="721.90" font-size="35.55" fill="#000" stroke="#000" stroke-width="0.55" textLength="51.66" lengthAdjust="spacingAndGlyphs">9.8</text>
<text x="64.40" y="811.37" font-size="35.60" fill="#000" stroke="#000" stroke-width="0.55" textLength="51.78" lengthAdjust="spacingAndGlyphs">9.7</text>
<text x="64.25" y="900.93" font-size="35.86" fill="#000" stroke="#000" stroke-width="0.55" textLength="51.91" lengthAdjust="spacingAndGlyphs">9.6</text>
<text x="142.69" y="955.41" font-size="34.50" fill="#000" stroke="#000" stroke-width="0.55" textLength="85.75" lengthAdjust="spacingAndGlyphs">-3.90</text>
<text x="276.16" y="955.41" font-size="33.98" fill="#000" stroke="#000" stroke-width="0.55" textLength="83.88" lengthAdjust="spacingAndGlyphs">-3.80</text>
<text x="410.58" y="955.41" font-size="34.28" fill="#000" stroke="#000" stroke-width="0.55" textLength="81.16" lengthAdjust="spacingAndGlyphs">-3.70</text>
<text x="233.96" y="991.98" font-size="36.06" fill="#000" stroke="#000" stroke-width="0.55" textLength="150.43" lengthAdjust="spacingAndGlyphs"><tspan font-style="italic">qx</tspan> (nm<tspan font-size="0.6em" dy="-0.62em">-1</tspan><tspan dy="0.372em">)</tspan></text>
<text transform="translate(45.02 796.86) rotate(-90)" font-size="39.86" fill="#000" stroke="#000" stroke-width="0.55" textLength="151.66" lengthAdjust="spacingAndGlyphs"><tspan font-style="italic">qz</tspan> (nm<tspan font-size="0.6em" dy="-0.62em">-1</tspan><tspan dy="0.372em">)</tspan></text>
<text x="161.02" y="630.89" font-size="37.27" fill="#fff" stroke="#fff" stroke-width="0.55" textLength="33.75" lengthAdjust="spacingAndGlyphs">Al</text>
<text x="195.67" y="638.69" font-size="22.52" fill="#fff" stroke="#fff" stroke-width="0.55" textLength="35.17" lengthAdjust="spacingAndGlyphs">0.8</text>
<text x="231.27" y="630.35" font-size="36.50" fill="#fff" stroke="#fff" stroke-width="0.55" textLength="49.00" lengthAdjust="spacingAndGlyphs">Ga</text>
<text x="293.31" y="639.11" font-size="23.60" fill="#fff" stroke="#fff" stroke-width="0.55" textLength="35.25" lengthAdjust="spacingAndGlyphs">0.2</text>
<text x="332.35" y="630.90" font-size="36.50" fill="#fff" stroke="#fff" stroke-width="0.55" textLength="24.57" lengthAdjust="spacingAndGlyphs">N</text>
<text x="172.53" y="729.31" font-size="36.40" fill="#fff" stroke="#fff" stroke-width="0.55" textLength="160.64" lengthAdjust="spacingAndGlyphs">Template</text>
<text x="483.29" y="505.41" font-size="37.65" fill="#000" stroke="#000" stroke-width="0.55" textLength="44.34" lengthAdjust="spacingAndGlyphs">(c)</text>
<text x="907.78" y="560.57" font-size="36.97" fill="#000" stroke="#000" stroke-width="0.55" textLength="117.81" lengthAdjust="spacingAndGlyphs">9.9 nm</text>
<text x="907.98" y="928.46" font-size="35.95" fill="#000" stroke="#000" stroke-width="0.55" textLength="85.99" lengthAdjust="spacingAndGlyphs">0 nm</text>
<text x="508.27" y="954.64" font-size="32.56" fill="#000" stroke="#000" stroke-width="0.55" textLength="206.12" lengthAdjust="spacingAndGlyphs">RMS=1.4nm</text>
<text x="799.93" y="955.08" font-size="37.79" fill="#000" stroke="#000" stroke-width="0.55" textLength="86.30" lengthAdjust="spacingAndGlyphs">1 μm</text>
</svg></body></html>
